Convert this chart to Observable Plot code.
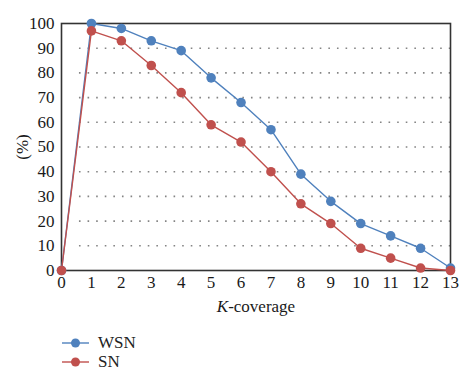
<!DOCTYPE html>
<html><head><meta charset="utf-8">
<script src="https://cdn.jsdelivr.net/npm/d3@7"></script>
<script src="https://cdn.jsdelivr.net/npm/@observablehq/plot@0.6"></script>
<style>
body{margin:0;background:#fff;font-family:"Liberation Serif","DejaVu Serif",serif;}
#legend{margin-left:62px;margin-top:13px;font-size:17px;color:#222;}
.row{display:flex;align-items:center;height:19px;}
.row svg{margin-right:8px;}
</style>
</head><body>
<div id="chart"></div>
<div id="legend"></div>
<script>
const kValues = [0,1,2,3,4,5,6,7,8,9,10,11,12,13];
const wsn = [0,100,98,93,89,78,68,57,39,28,19,14,9,1];
const sn  = [0,97,93,83,72,59,52,40,27,19,9,5,1,0];
const yTicks = [0,10,20,30,40,50,60,70,80,90,100];
const seriesNames = ["WSN","SN"];
const colors = ["#4f81bd","#c0504d"];

const data = [];
kValues.forEach((k,i)=>{
  data.push({k, v: wsn[i], s: "WSN"});
});
kValues.forEach((k,i)=>{
  data.push({k, v: sn[i], s: "SN"});
});

const plot = Plot.plot({
  width: 474, height: 320,
  marginLeft: 61, marginRight: 24, marginTop: 23, marginBottom: 50,
  style: {fontFamily: '"Liberation Serif", serif', fontSize: "17px", color: "#1a1a1a", background: "#fff"},
  x: {domain: [0,13], ticks: kValues, tickSize: 0, tickPadding: 5, label: null, tickFormat: d=>String(d)},
  y: {domain: [0,100], ticks: yTicks, tickSize: 0, tickPadding: 7, label: null},
  color: {domain: seriesNames, range: colors},
  marks: [
    Plot.ruleY(yTicks.filter(d=>d>0 && d<100), {stroke: "#777", strokeDasharray: "1.6,7", strokeWidth: 1.6, strokeOpacity: 0.9, x1: 0.6, x2: 13}),
    Plot.frame({stroke: "#333", strokeWidth: 1.6}),
    Plot.line(data, {x: "k", y: "v", z: "s", stroke: "s", strokeWidth: 1.4}),
    Plot.dot(data, {x: "k", y: "v", fill: "s", r: 4.8}),
  ]
});
document.getElementById("chart").appendChild(plot);

// axis labels with italic K
const svg = d3.select(plot);
const xl = svg.append("text").attr("x", 256).attr("y", 312).attr("text-anchor","middle")
  .attr("font-size", 17).attr("fill", "#1a1a1a");
xl.append("tspan").attr("font-style","italic").text("K");
xl.append("tspan").text("-coverage");
svg.append("text").attr("transform","translate(28,147) rotate(-90)").attr("text-anchor","middle")
  .attr("font-size", 17).attr("fill","#1a1a1a").text("(%)");

// legend
const leg = d3.select("#legend");
seriesNames.forEach((n,i)=>{
  const row = leg.append("div").attr("class","row");
  const s = row.append("svg").attr("width",28).attr("height",12);
  s.append("line").attr("x1",0).attr("x2",27).attr("y1",6).attr("y2",6).attr("stroke",colors[i]).attr("stroke-width",1.4);
  s.append("circle").attr("cx",13.5).attr("cy",6).attr("r",4.5).attr("fill",colors[i]);
  row.append("span").text(n);
});
</script>
</body></html>
